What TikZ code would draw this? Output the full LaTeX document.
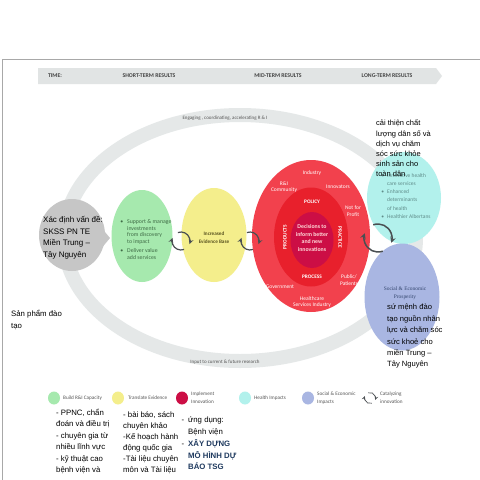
\documentclass[tikz,border=0pt]{standalone}
\usepackage{fontspec}
\setmainfont{Carlito}
\newfontfamily\vnfont{Liberation Sans}
\newfontfamily\serfont{Liberation Serif}
\usetikzlibrary{shapes.geometric, arrows}

\definecolor{framegray}{HTML}{A8A8A8}
\definecolor{bannergray}{HTML}{E1E4E4}
\definecolor{ringgray}{HTML}{E5E8E8}
\definecolor{labelgray}{HTML}{555555}
\definecolor{graycol}{HTML}{C6C6C6}
\definecolor{greencol}{HTML}{A6E9AE}
\definecolor{greentext}{HTML}{3F6B46}
\definecolor{yellowcol}{HTML}{F4EE8C}
\definecolor{yellowtext}{HTML}{5A5420}
\definecolor{redout}{HTML}{F2414D}
\definecolor{redmid}{HTML}{E8202C}
\definecolor{redin}{HTML}{CC0E45}
\definecolor{cyancol}{HTML}{B2F1EC}
\definecolor{cyantext}{HTML}{5F8B89}
\definecolor{bluecol}{HTML}{A9B6E2}
\definecolor{bluetext}{HTML}{34466E}
\definecolor{cycgray}{HTML}{4A4F52}
\definecolor{navy}{HTML}{1F3A5F}

\tikzstyle{bubble} = [ellipse, draw=none, inner sep=0pt]
\tikzstyle{vntext} = [font=\vnfont\fontsize{7.8}{11.3}\selectfont, align=left, inner sep=0pt, anchor=north west, text=black]
\tikzstyle{smalltext} = [font=\fontsize{5.8}{6.9}\selectfont, align=left, inner sep=0pt, anchor=north west]
\tikzstyle{redlabel} = [font=\fontsize{5.5}{6.5}\selectfont, align=center, text=white, inner sep=0pt]
\tikzstyle{ringlabel} = [font=\fontsize{5}{6}\selectfont, text=labelgray, inner sep=0pt]
\tikzstyle{bantext} = [font=\bfseries\fontsize{5.8}{7}\selectfont, text=labelgray!80!black, inner sep=0pt]
\tikzstyle{legdot} = [ellipse, minimum width=12pt, minimum height=13pt, inner sep=0pt]
\tikzstyle{legend} = [font=\fontsize{5.2}{8}\selectfont, text=labelgray, align=left, anchor=west, inner sep=0pt]
\tikzstyle{cyc} = [line width=1.2pt, ->, >=stealth, draw=cycgray]

\begin{document}
\begin{tikzpicture}[x=1pt, y=-1pt]

			\useasboundingbox (0,0) rectangle (480,480);
			\fill[white] (0,0) rectangle (480,480);

			% frame and time banner
			\draw[framegray, line width=0.8pt] (2,480) -- (2,59) -- (480,59);
			\fill[bannergray] (38,68) -- (436,68) -- (442,76) -- (436,84) -- (38,84) -- cycle;
			\node (time) [bantext] at (55,76) {TIME:};
			\node (short) [bantext] at (149,76) {SHORT-TERM RESULTS};
			\node (mid) [bantext] at (278,76) {MID-TERM RESULTS};
			\node (long) [bantext] at (387,76) {LONG-TERM RESULTS};

			% big loop
			\draw[ringgray, line width=14pt] (240,238) ellipse [x radius=176, y radius=123];
			\node (engage) [ringlabel] at (225,118) {Engaging , coordinating, accelerating R \& I};
			\node (input) [ringlabel] at (225,362) {Input to current \& future research};

			% bubbles
			\fill[graycol] (100,226) -- (110,238) -- (100,250) -- cycle;
			\node (gray) [bubble, fill=graycol, minimum width=66pt, minimum height=72pt] at (72,235) {};
			\node (green) [bubble, fill=greencol, minimum width=61pt, minimum height=92pt] at (142,236) {};
			\node (yellow) [bubble, fill=yellowcol, minimum width=65pt, minimum height=94pt] at (214,235) {};
			\node (redo) [bubble, fill=redout, minimum width=118pt, minimum height=152pt] at (311,236) {};
			\node (redm) [bubble, fill=redmid, minimum width=74pt, minimum height=99pt] at (311,237) {};
			\node (redi) [bubble, fill=redin, minimum width=43pt, minimum height=56pt] at (312,240) {};
			\node (cyan) [bubble, fill=cyancol, minimum width=74pt, minimum height=92pt] at (404,198) {};
			\node (blue) [bubble, fill=bluecol, minimum width=75pt, minimum height=107pt] at (402,297) {};

			% texts of the bubbles
			\node (build) [smalltext, text=greentext] at (127,219) {\llap{\textbullet\hspace{4pt}}Support \& manage\\investments\\from discovery\\to impact\\[1.5pt]\llap{\textbullet\hspace{4pt}}Deliver value\\add services};
			\node (evid) [font=\bfseries\fontsize{5.2}{8}\selectfont, text=yellowtext, align=center, inner sep=0pt] at (214,238) {Increased\\Evidence Base};

			\node (industry) [redlabel] at (312,173) {Industry};
			\node (rni) [redlabel] at (284,187) {R\&I\\Community};
			\node (innov) [redlabel] at (338,187) {Innovators};
			\node (nfp) [redlabel] at (353,211) {Not for\\Profit};
			\node (public) [redlabel] at (349,280) {Public/\\Patients};
			\node (govt) [redlabel] at (280,287) {Government};
			\node (hsi) [redlabel] at (312,302) {Healthcare\\Services Industry};
			\node (policy) [redlabel, font=\bfseries\fontsize{5.3}{6}\selectfont] at (312,202) {POLICY};
			\node (process) [redlabel, font=\bfseries\fontsize{5.3}{6}\selectfont] at (312,277) {PROCESS};
			\node (products) [redlabel, font=\bfseries\fontsize{5.3}{6}\selectfont, rotate=90] at (285,237) {PRODUCTS};
			\node (practice) [redlabel, font=\bfseries\fontsize{5.3}{6}\selectfont, rotate=-90] at (340,237) {PRACTICE};
			\node (decide) [redlabel, font=\bfseries\fontsize{5.8}{7.4}\selectfont, text=pink!60!white] at (312,238) {Decisions to\\inform better\\and new\\innovations};

			\node (health) [smalltext, text=cyantext, font=\fontsize{5.5}{8.3}\selectfont] at (387,173) {\llap{\textbullet\hspace{3pt}}Innovative health\\care services\\\llap{\textbullet\hspace{3pt}}Enhanced\\determinants\\of health\\\llap{\textbullet\hspace{3pt}}Healthier Albertans};
			\node (social) [font=\serfont\fontsize{5.4}{8.5}\selectfont, text=bluetext, align=center, inner sep=0pt] at (405,293) {Social \& Economic\\Prosperity};

			% vietnamese overlay
			\node (vande) [vntext, font=\vnfont\fontsize{8}{11.7}\selectfont] at (43,216) {Xác định vấn đề:\\SKSS PN TE\\Miền Trung –\\Tây Nguyên};
			\node (caithien) [vntext, font=\vnfont\fontsize{7.5}{10.2}\selectfont] at (376,120) {cải thiện chất\\lượng dân số và\\dịch vụ chăm\\sóc sức khỏe\\sinh sản cho\\toàn dân};
			\node (sumenh) [vntext, font=\vnfont\fontsize{7.6}{11.4}\selectfont] at (387,304) {sứ mệnh đào\\tạo nguồn nhân\\lực và chăm sóc\\sức khoẻ cho\\miền Trung –\\Tây Nguyên};
			\node (sanpham) [vntext, font=\vnfont\fontsize{7.8}{12}\selectfont] at (11,310) {Sản phẩm đào\\tạo};

			% catalyzing arrows
			\coordinate (cA) at (181,241);
			\coordinate (cB) at (250,241);
			\coordinate (cC) at (378,238);
			\draw[cyc] ([shift={(70:9)}]cA) arc[start angle=70, end angle=200, radius=9];
			\draw[cyc] ([shift={(250:9)}]cA) arc[start angle=250, end angle=380, radius=9];
			\draw[cyc] ([shift={(70:9)}]cB) arc[start angle=70, end angle=200, radius=9];
			\draw[cyc] ([shift={(250:9)}]cB) arc[start angle=250, end angle=380, radius=9];
			\draw[cyc, line width=1.5pt] ([shift={(70:14)}]cC) arc[start angle=70, end angle=200, radius=14];
			\draw[cyc, line width=1.5pt] ([shift={(250:14)}]cC) arc[start angle=250, end angle=380, radius=14];

			% legend
			\node (lgreen) [legdot, fill=greencol] at (54,398) {};
			\node (tgreen) [legend] at (63,398) {Build R\&I Capacity};
			\node (lyellow) [legdot, fill=yellowcol] at (118,398) {};
			\node (tyellow) [legend] at (128,398) {Translate Evidence};
			\node (lred) [legdot, fill=redin] at (182,398) {};
			\node (tred) [legend] at (191,398) {Implement\\Innovation};
			\node (lcyan) [legdot, fill=cyancol] at (245,398) {};
			\node (tcyan) [legend] at (254,398) {Health Impacts};
			\node (lblue) [legdot, fill=bluecol] at (308,398) {};
			\node (tblue) [legend] at (317,398) {Social \& Economic\\Impacts};
			\coordinate (cL) at (370,398);
			\draw[cyc, line width=0.7pt] ([shift={(70:5.5)}]cL) arc[start angle=70, end angle=200, radius=5.5];
			\draw[cyc, line width=0.7pt] ([shift={(250:5.5)}]cL) arc[start angle=250, end angle=380, radius=5.5];
			\node (tcyc) [legend] at (380,398) {Catalyzing\\innovation};

			% products listed below
			\node (ppnc) [vntext, font=\vnfont\fontsize{7.8}{11.4}\selectfont] at (56,409) {- PPNC, chẩn\\đoán và điều trị\\- chuyên gia từ\\nhiều lĩnh vực\\- kỹ thuật cao\\bệnh viện và};
			\node (baibao) [vntext, font=\vnfont\fontsize{7.8}{11}\selectfont] at (123,412) {- bài báo, sách\\chuyên khảo\\-Kế hoạch hành\\động quốc gia\\-Tài liệu chuyên\\môn và Tài liệu};
			\node (ungdung) [vntext, font=\vnfont\fontsize{7.8}{11.7}\selectfont] at (188,417) {\llap{-\hspace{4pt}}ứng dụng:\\Bệnh viện\\\llap{-\hspace{4pt}}\textcolor{navy}{\textbf{XÂY DỰNG}}\\\textcolor{navy}{\textbf{MÔ HÌNH DỰ}}\\\textcolor{navy}{\textbf{BÁO TSG}}};

		\end{tikzpicture}
\end{document}
